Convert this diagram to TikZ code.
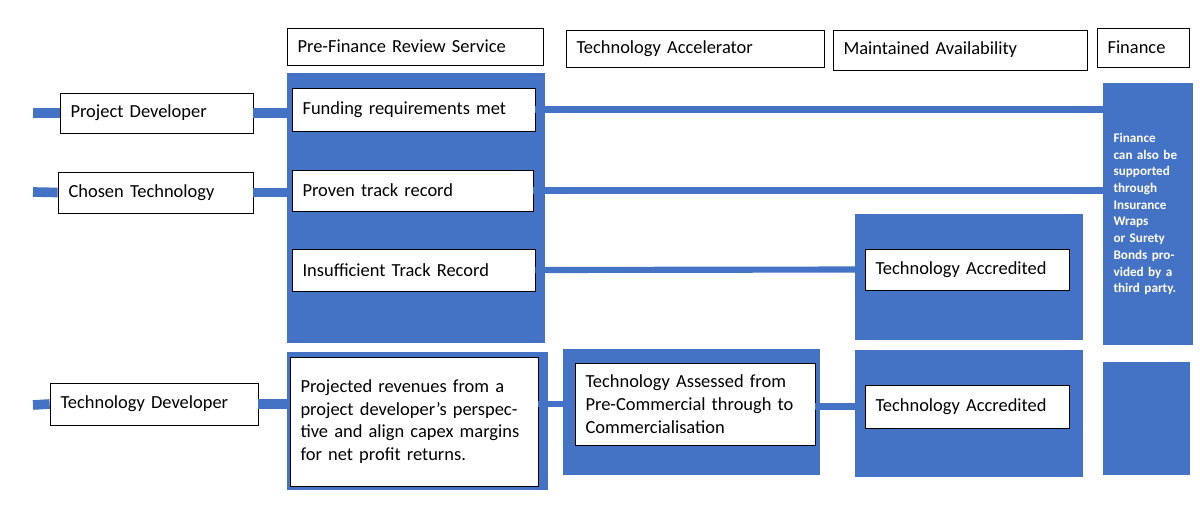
\documentclass[tikz,border=0pt]{standalone}
\usepackage{fontspec}
\setmainfont{Carlito}
\usetikzlibrary{positioning}
\definecolor{panel}{RGB}{68,114,196}
\newcommand{\bx}[7]{\node[#6,minimum width={(#4-#2)*0.02cm},minimum height={(#5-#3)*0.02cm},
  text width={(#4-#2)*0.02cm-12pt}] (#1) at ({(#2+#4)/2},{-(#3+#5)/2}) {#7};}
\begin{document}
\begin{tikzpicture}[x=0.02cm,y=0.02cm,font=\fontsize{10.5}{13}\selectfont,
	wbox/.style={draw=black,fill=white,thin,inner sep=6pt,align=left},
	pbox/.style={draw=none,fill=panel,inner sep=6pt,align=left},
	link/.style={panel,line width=3.5pt},
	stub/.style={panel,line width=5.5pt}]
	
	\useasboundingbox (0,0) rectangle (1200,-514);
	
	% column headings
	\bx{hpre}{287}{28}{543}{65}{wbox}{Pre-Finance Review Service}
	\bx{hacc}{566}{30}{824}{67}{wbox}{Technology Accelerator}
	\bx{hmav}{833}{30}{1087}{70}{wbox}{Maintained Availability}
	\bx{hfin}{1097}{28}{1189}{67}{wbox}{Finance}
	
	% blue panels
	\bx{pre}{287}{73}{545}{343}{pbox}{}
	\bx{preb}{287}{352}{548}{490}{pbox}{}
	\bx{accb}{563}{349}{820}{475}{pbox}{}
	\bx{mav}{855}{214}{1083}{340}{pbox}{}
	\bx{mavb}{855}{350}{1083}{477}{pbox}{}
	\bx{fin}{1103}{83}{1193}{345}{pbox,text=white,font=\fontsize{7.5}{9.5}\selectfont\bfseries}{Finance can also be supported through Insurance Wraps or Surety Bonds provided by a third party.}
	\bx{finb}{1103}{362}{1190}{475}{pbox}{}
	
	% actors
	\bx{dev}{60}{93}{253}{133}{wbox}{Project Developer}
	\bx{tech}{58}{172}{253}{213}{wbox}{Chosen Technology}
	\bx{tdev}{50}{383}{258}{425}{wbox}{Technology Developer}
	
	% steps
	\bx{fund}{292}{88}{535}{131}{wbox}{Funding requirements met}
	\bx{track}{292}{170}{533}{211}{wbox}{Proven track record}
	\bx{insuf}{292}{249}{535}{291}{wbox}{Insufficient Track Record}
	\bx{rev}{290}{357}{538}{486}{wbox}{Projected revenues from a project developer's perspective and align capex margins for net profit returns.}
	\bx{assess}{575}{363}{815}{445}{wbox}{Technology Assessed from Pre-Commercial through to Commercialisation}
	\bx{accr}{865}{249}{1069}{290}{wbox}{Technology Accredited}
	\bx{accrb}{865}{385}{1069}{428}{wbox}{Technology Accredited}
	
	\coordinate (s1) at (33,-113);
	\coordinate (s2) at (33,-192);
	\coordinate (s3) at (33,-405);
	
	\draw[stub] (s1) -- (dev.west);
	\draw[stub] (s2) -- (tech.west);
	\draw[stub] (s3) -- (tdev.west);
	\draw[stub] (dev.east) -- (dev.east -| pre.west);
	\draw[stub] (tech.east) -- (tech.east -| pre.west);
	\draw[stub] (tdev.east) -- (tdev.east -| preb.west);
	\draw[link] (fund.east) -- (fund.east -| fin.west);
	\draw[link] (track.east) -- (track.east -| fin.west);
	\draw[link] (insuf.east) -- (accr.west);
	\draw[link] (rev.east |- assess.west) -- (assess.west);
	\draw[link] (assess.east |- accrb.west) -- (accrb.west);
\end{tikzpicture}
\end{document}
